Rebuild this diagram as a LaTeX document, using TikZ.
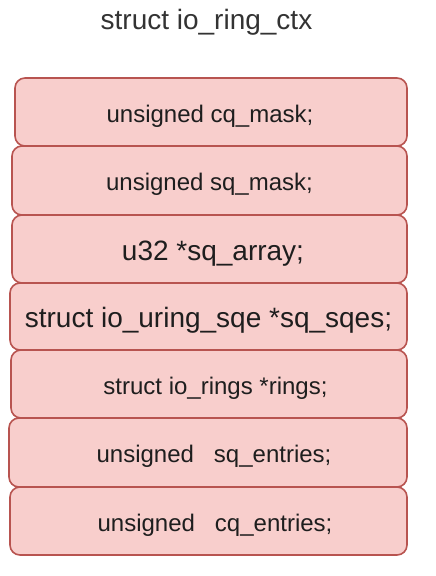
\documentclass[tikz,border=0pt]{standalone}
\usepackage{fontspec}
\setmainfont{Liberation Sans}
\definecolor{boxfill}{HTML}{F8CECC}
\definecolor{boxline}{HTML}{B85450}
\definecolor{titlegray}{HTML}{333333}
\definecolor{fieldtext}{HTML}{1E1E1E}
\newcommand{\padl}[1]{\hspace*{#1}}
\begin{document}
\begin{tikzpicture}[x=1pt,y=-1pt,
  field/.style={draw=boxline, fill=boxfill, line width=1.6pt, rounded corners=10pt,
    inner sep=0pt, outer sep=0pt, text=fieldtext, font=\fontsize{24}{28}\selectfont,
    text height=24pt, text depth=4pt},
  bigfield/.style={field, font=\fontsize{28}{32}\selectfont, text height=26pt, text depth=4pt}]
\useasboundingbox (0,0) rectangle (436,576);
\node[text=titlegray, font=\fontsize{28}{32}\selectfont, text height=22pt, text depth=4pt, inner sep=0pt] (title) at (206.5,20) {struct io\_ring\_ctx};
\node[field, minimum width=392pt, minimum height=68pt] (b1) at (211,112) {unsigned cq\_mask;\padl{2pt}};
\node[field, minimum width=395pt, minimum height=69pt] (b2) at (209.5,180.5) {unsigned sq\_mask;};
\node[bigfield, minimum width=395pt, minimum height=68pt] (b3) at (209.5,249) {\padl{7pt}u32 *sq\_array;};
\node[bigfield, minimum width=397pt, minimum height=67pt] (b4) at (208.5,316.5) {struct io\_uring\_sqe *sq\_sqes;};
\node[field, minimum width=396pt, minimum height=68pt] (b5) at (209,384) {\padl{13pt}struct io\_rings *rings;};
\node[field, minimum width=398pt, minimum height=69pt] (b6) at (208,452.5) {\padl{12pt}unsigned\ \ \ sq\_entries;};
\node[field, minimum width=397pt, minimum height=68pt] (b7) at (208.5,521) {\padl{13pt}unsigned\ \ \ cq\_entries;};
\end{tikzpicture}
\end{document}
